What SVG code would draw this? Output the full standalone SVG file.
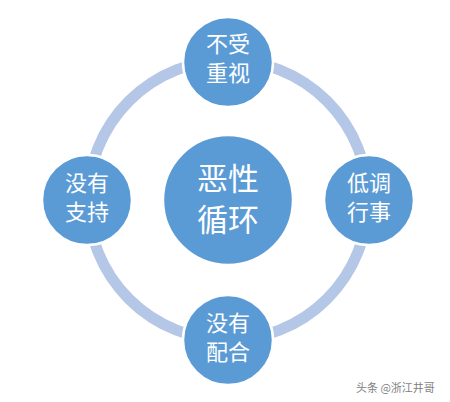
<svg xmlns="http://www.w3.org/2000/svg" width="450" height="402" viewBox="0 0 450 402">
<style>
.node{fill:#5b9bd5;stroke:#ffffff;stroke-width:2.5}
.t{fill:#ffffff;font-family:"Noto Sans CJK SC","Noto Sans",sans-serif;text-anchor:middle}
.s{font-size:22px}
.b{font-size:31px}
.wm{fill:#7f7f7f;font-family:"Noto Sans CJK SC",sans-serif;font-size:11px}
</style>
<rect width="450" height="402" fill="#ffffff"/>
<g id="connectors">
<circle cx="228" cy="200" r="140" fill="none" stroke="#b4c7e7" stroke-width="11"/>
</g>
<g id="center">
<circle class="node" cx="228" cy="200" r="65"/>
<text class="t b" x="228" y="190">恶性</text>
<text class="t b" x="228" y="231">循环</text>
</g>
<g id="top">
<circle class="node" cx="228" cy="62" r="45"/>
<text class="t s" x="228" y="52">不受</text>
<text class="t s" x="228" y="81">重视</text>
</g>
<g id="right">
<circle class="node" cx="369" cy="200" r="45"/>
<text class="t s" x="369" y="191">低调</text>
<text class="t s" x="369" y="220">行事</text>
</g>
<g id="bottom">
<circle class="node" cx="228" cy="340" r="45"/>
<text class="t s" x="228" y="331">没有</text>
<text class="t s" x="228" y="360">配合</text>
</g>
<g id="left">
<circle class="node" cx="87" cy="200" r="45"/>
<text class="t s" x="87" y="191">没有</text>
<text class="t s" x="87" y="220">支持</text>
</g>
<text class="wm" x="356" y="392">头条 @浙江井哥</text>
</svg>
